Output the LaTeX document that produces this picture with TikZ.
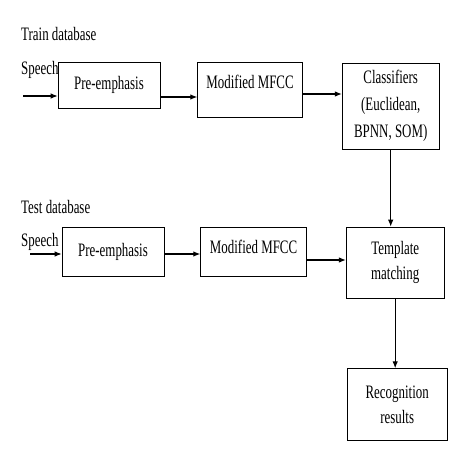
\documentclass[tikz,border=0pt]{standalone}
\usepackage{fontspec}
\setmainfont{Liberation Serif}[FakeStretch=0.68]
\usetikzlibrary{arrows.meta,positioning}

\begin{document}
\begin{tikzpicture}[
		x=1pt, y=-1pt,
		node distance=36pt,
		arrow/.style={-{Latex[length=7pt,width=5.5pt]}, line width=1.1pt},
		block/.style={draw, line width=0.6pt, minimum height=46pt, minimum width=102pt, align=center, inner sep=2pt, font=\fontsize{19pt}{25pt}\selectfont},
		lbl/.style={anchor=west, inner sep=0pt, font=\fontsize{19pt}{22pt}\selectfont},
	]
		\useasboundingbox (0,0) rectangle (474,460);
		
		% train branch
		\node (train) [lbl] at (21,34) {Train database};
		\node (sp1) [lbl] at (21,70) {Speech};
		\coordinate (in1) at (23,96);
		\node (pre1) [block] at (109,85) {Pre-emphasis};
		\node (mfcc1) [block, right=37pt of pre1, yshift=-4.5pt, minimum width=105pt, minimum height=55pt, text depth=15pt] {Modified MFCC};
		\node (cls) [block, right=39pt of mfcc1, yshift=-16.5pt, minimum width=97pt, minimum height=86pt, font=\fontsize{19pt}{27pt}\selectfont] {Classifiers\\(Euclidean,\\BPNN, SOM)};
		
		% test branch
		\node (test) [lbl] at (21,207) {Test database};
		\node (sp2) [lbl] at (21,242) {Speech};
		\coordinate (in2) at (30,254);
		\node (pre2) [block, minimum height=49pt] at (113,251.5) {Pre-emphasis};
		\node (mfcc2) [block, right=36pt of pre2, minimum width=106pt, minimum height=49pt, text depth=9pt] {Modified MFCC};
		\node (tmpl) [block, right=39pt of mfcc2, yshift=-11pt, minimum width=98pt, minimum height=71pt] {Template\\matching};
		\node (rec) [block, below=70pt of tmpl, xshift=2pt, minimum width=100pt, minimum height=72pt] {Recognition\\results};
		
		\draw[arrow] (in1) -- (in1 -| pre1.west);
		\draw[arrow] ([yshift=-12pt]pre1.east) -- ([yshift=-12pt]pre1.east -| mfcc1.west);
		\draw[arrow] ([yshift=-4.5pt]mfcc1.east) -- ([yshift=-4.5pt]mfcc1.east -| cls.west);
		\draw[arrow] (cls.south) -- (cls.south |- tmpl.north);
		\draw[arrow] (in2) -- (in2 -| pre2.west);
		\draw[arrow] ([yshift=-2.5pt]pre2.east) -- ([yshift=-2.5pt]pre2.east -| mfcc2.west);
		\draw[arrow] ([yshift=-8.5pt]mfcc2.east) -- ([yshift=-8.5pt]mfcc2.east -| tmpl.west);
		\draw[arrow] (tmpl.south) -- (tmpl.south |- rec.north);
	\end{tikzpicture}
\end{document}
